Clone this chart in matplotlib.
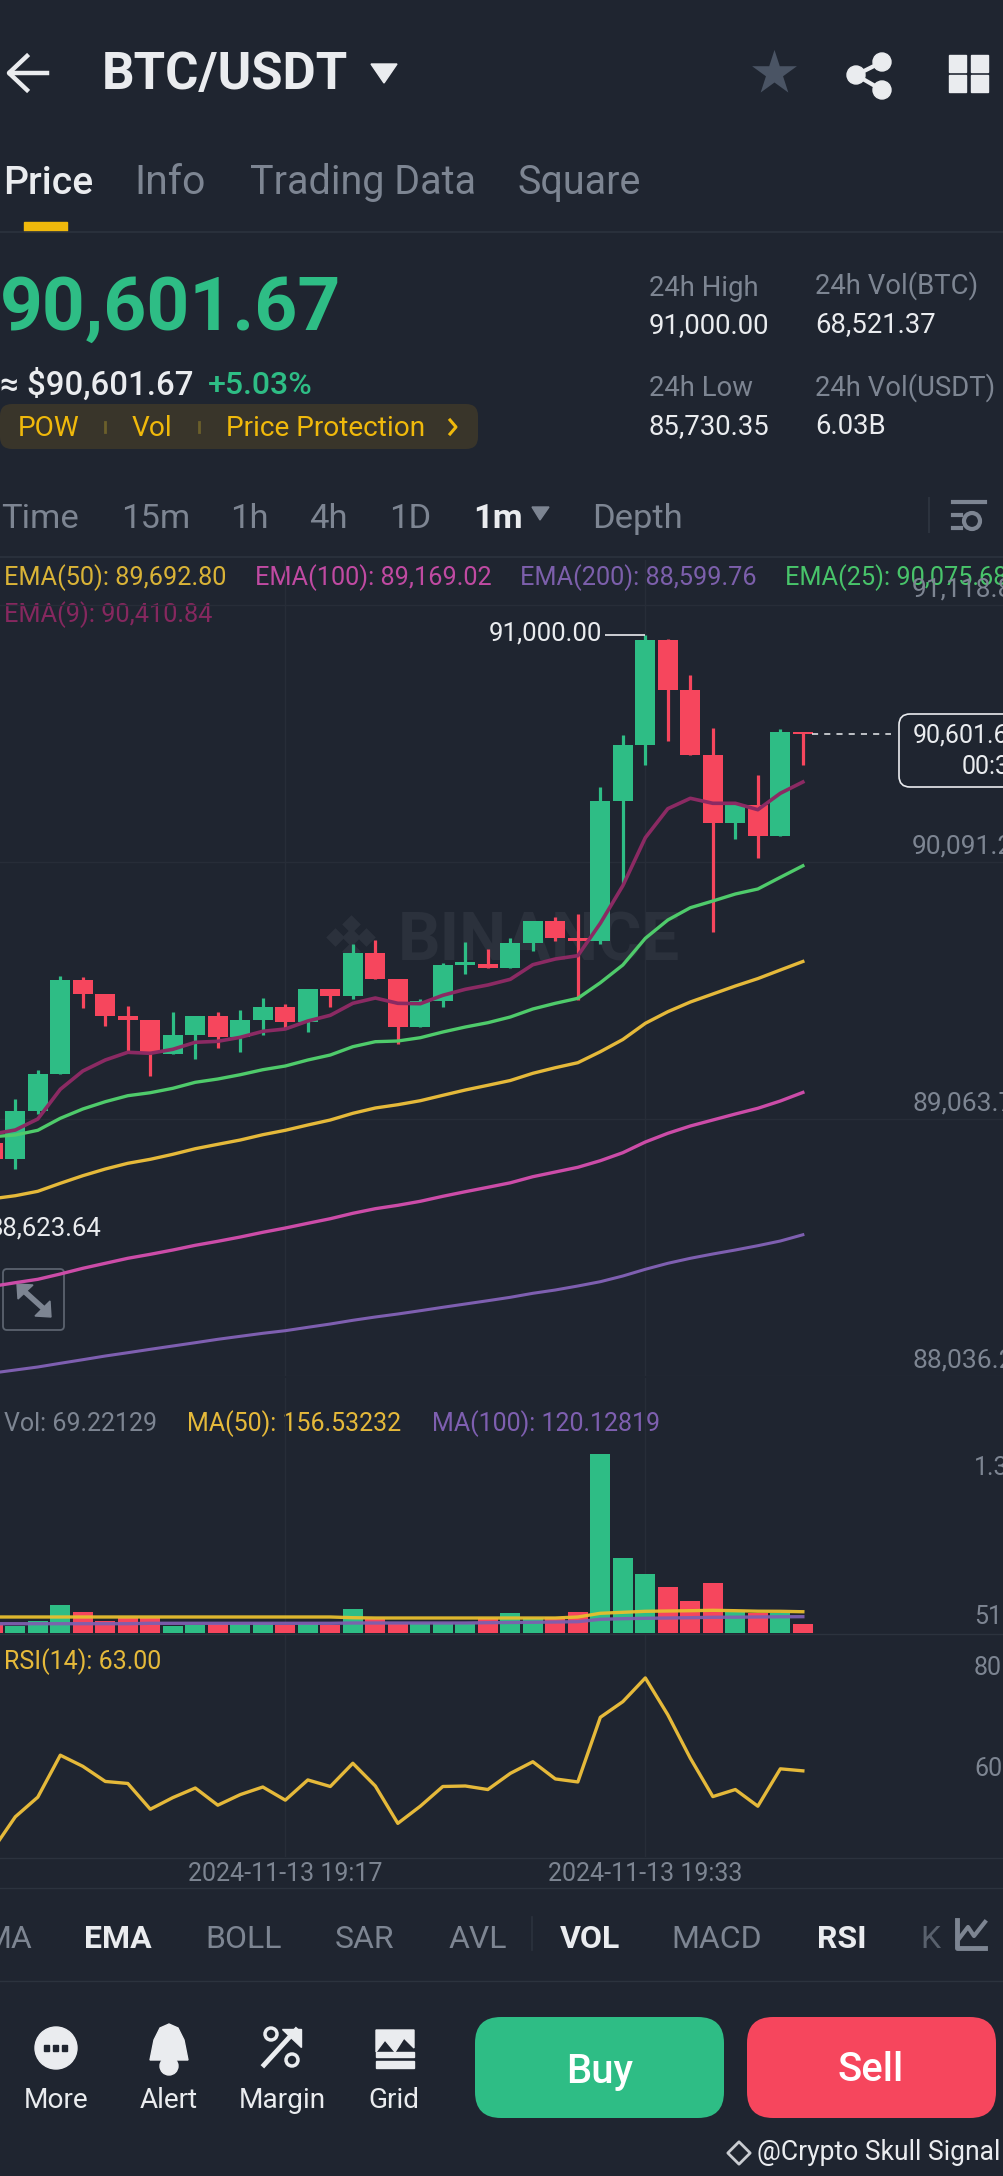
import matplotlib
matplotlib.use("Agg")
import matplotlib.pyplot as plt
from matplotlib.patches import FancyBboxPatch, Rectangle, Circle, Polygon

plt.rcParams["font.family"] = ["Roboto", "DejaVu Sans"]

# candle index, -1 is the one cut by the left edge
idx = list(range(-1, 36))
opens = [88965.6, 88904.0, 89094.8, 89241.6, 89620.0, 89561.6, 89474.8, 89460.0, 89321.6, 89400.0,
         89474.8, 89390.8, 89458.8, 89510.8, 89452.0, 89584.0, 89556.0, 89726.8, 89622.8, 89432.0,
         89536.0, 89678.8, 89681.6, 89668.0, 89768.0, 89856.0, 89788.0, 89774.8, 90334.8, 90558.8,
         90978.8, 90778.8, 90518.8, 90245.6, 90318.8, 90196.0, 90609.6]
highs = [88965.6, 89142.8, 89258.8, 89634.8, 89630.8, 89561.6, 89514.8, 89460.0, 89492.0, 89474.8,
         89490.8, 89497.6, 89546.8, 89521.6, 89584.0, 89584.0, 89762.8, 89777.6, 89622.8, 89541.6,
         89688.0, 89772.0, 89741.6, 89788.0, 89856.0, 89872.0, 89884.0, 90389.6, 90598.8, 91000.0,
         90984.0, 90838.8, 90626.8, 90318.8, 90438.8, 90621.6, 90609.6]
lows = [88904.0, 88861.6, 89081.6, 89241.6, 89505.6, 89434.8, 89332.0, 89234.8, 89321.6, 89301.6,
        89348.0, 89329.6, 89400.0, 89425.6, 89412.0, 89509.6, 89544.0, 89622.8, 89362.8, 89432.0,
        89512.0, 89641.6, 89668.0, 89668.0, 89736.0, 89776.0, 89538.8, 89762.8, 90001.6, 90478.8,
        90576.0, 90518.8, 89812.0, 90181.6, 90105.6, 90196.0, 90478.8]
closes = [88904.0, 89094.8, 89241.6, 89620.0, 89561.6, 89474.8, 89460.0, 89332.0, 89400.0, 89474.8,
          89390.8, 89458.8, 89510.8, 89452.0, 89584.0, 89556.0, 89726.8, 89622.8, 89432.0, 89536.0,
          89678.8, 89689.6, 89668.0, 89768.0, 89856.0, 89788.0, 89774.8, 90334.8, 90558.8, 90978.8,
          90778.8, 90518.8, 90245.6, 90318.8, 90196.0, 90609.6, 90601.67]

ema9 = [89002.8, 89018.8, 89062.8, 89181.6, 89254.8, 89298.8, 89329.6, 89325.6, 89341.6, 89369.6,
        89373.6, 89389.6, 89413.6, 89422.8, 89454.8, 89477.6, 89525.6, 89546.8, 89525.6, 89524.0,
        89557.6, 89581.6, 89598.8, 89621.6, 89680.0, 89702.8, 89716.0, 89845.6, 89996.0, 90188.0,
        90304.0, 90345.6, 90325.6, 90325.6, 90300.0, 90365.6, 90410.84]
ema25 = [88992.0, 88998.8, 89017.6, 89065.6, 89102.8, 89132.0, 89156.0, 89168.0, 89185.6, 89209.6,
         89222.8, 89240.0, 89260.0, 89274.8, 89298.8, 89318.8, 89352.0, 89372.0, 89374.8, 89388.0,
         89410.8, 89430.8, 89448.0, 89470.8, 89502.8, 89525.6, 89545.6, 89608.0, 89678.8, 89785.6,
         89858.8, 89908.0, 89934.8, 89962.8, 89982.8, 90029.6, 90075.68]
ema50 = [88744.0, 88756.0, 88773.6, 88805.6, 88836.0, 88862.8, 88885.6, 88901.6, 88921.6, 88944.0,
         88961.6, 88978.8, 89000.0, 89017.6, 89038.8, 89058.8, 89085.6, 89106.8, 89120.0, 89136.0,
         89157.6, 89178.8, 89197.6, 89216.8, 89245.6, 89268.0, 89288.0, 89332.0, 89380.8, 89445.6,
         89492.0, 89530.8, 89562.8, 89594.8, 89624.4, 89658.8, 89692.8]
ema100 = [88393.6, 88408.0, 88421.6, 88442.8, 88465.6, 88485.6, 88505.6, 88521.6, 88538.8, 88557.6,
          88573.6, 88590.8, 88609.6, 88626.8, 88645.6, 88664.0, 88685.6, 88704.0, 88717.6, 88733.6,
          88753.6, 88772.0, 88789.6, 88807.6, 88832.0, 88850.8, 88869.6, 88896.0, 88928.0, 88970.8,
          89005.6, 89034.8, 89058.8, 89082.8, 89105.6, 89134.8, 89169.02]
ema200 = [88046.8, 88058.8, 88070.8, 88085.6, 88100.0, 88114.8, 88128.0, 88141.6, 88154.8, 88168.0,
          88181.6, 88193.6, 88205.6, 88216.0, 88229.6, 88242.8, 88257.6, 88270.8, 88282.8, 88296.0,
          88309.6, 88322.8, 88336.0, 88349.6, 88365.6, 88378.8, 88394.8, 88412.0, 88434.8, 88461.6,
          88485.6, 88505.6, 88522.8, 88538.8, 88556.0, 88574.8, 88599.76]

volume = [56.7, 51.5, 86.1, 206.1, 156.8, 86.1, 112.6, 112.6, 49.3, 56.7,
          68.4, 68.4, 73.6, 61.1, 68.4, 61.1, 176.6, 103.0, 68.4, 73.6,
          73.6, 68.4, 108.2, 147.2, 110.4, 117.8, 156.8, 1319.6, 549.8, 436.4,
          340.8, 235.5, 370.2, 156.8, 149.4, 149.4, 69.22]
vol_ma50 = [117.8, 117.8, 117.8, 117.8, 117.8, 117.8, 117.8, 117.8, 117.8, 117.8,
            117.8, 117.8, 117.8, 117.8, 117.8, 117.8, 112.6, 110.4, 110.4, 110.4,
            110.4, 110.4, 110.4, 110.4, 110.4, 110.4, 117.8, 145.0, 152.4, 159.7,
            161.9, 164.1, 167.1, 164.1, 160.4, 159.7, 156.53]
vol_ma100 = [68.4, 68.4, 68.4, 68.4, 68.4, 68.4, 68.4, 71.4, 71.4, 71.4,
             71.4, 71.4, 71.4, 71.4, 71.4, 71.4, 73.6, 73.6, 73.6, 73.6,
             73.6, 73.6, 75.8, 77.3, 78.8, 81.0, 83.2, 100.8, 105.2, 108.2,
             110.4, 112.6, 115.6, 116.3, 117.8, 119.2, 120.13]
rsi = [47.4, 53.9, 57.8, 66.1, 63.9, 60.9, 60.5, 55.4, 57.7, 59.6,
       56.2, 58.3, 59.8, 57.2, 61.2, 59.9, 64.5, 60.0, 52.6, 56.0,
       59.9, 60.0, 59.3, 62.5, 64.8, 61.4, 60.8, 73.6, 76.7, 81.4,
       74.1, 65.5, 57.9, 59.3, 56.0, 63.4, 63.0]

price_ticks = [88036.2, 89063.7, 90091.2, 91118.8]
price_tick_labels = ["88,036.2", "89,063.7", "90,091.2", "91,118.8"]
time_ticks = [12, 28]
time_labels = ["2024-11-13 19:17", "2024-11-13 19:33"]

BG = "#1f2530"
GREEN = "#2ebd85"
RED = "#f6465d"
YELLOW = "#e5bb35"
GOLD = "#f0b90b"
GRAY = "#7d8592"
WHITE = "#eaecef"
GRID = "#272d38"
LINE = "#2c333e"
MARK = "#2b313c"
W, H = 1004, 2176
XLIM = (-0.68, 43.94)


def chart_axes(top, bottom):
    ax = fig.add_axes([0, 1 - bottom / H, 1, (bottom - top) / H], zorder=2)
    ax.patch.set_visible(False)
    ax.set_xlim(*XLIM)
    for s in ax.spines.values():
        s.set_visible(False)
    ax.tick_params(left=False, bottom=False, labelleft=False, labelbottom=False)
    ax.set_xticks(time_ticks)
    ax.grid(axis="x", color=GRID, lw=1)
    ax.set_axisbelow(True)
    return ax


def label(x, y, s, color=GRAY, size=27, ha="left", weight="normal", **kw):
    # size is in pixels of the 1004 wide picture, +2 brings the box centre onto the cap height
    return ui.text(x, y + 2, s, color=color, fontsize=size * 0.72, ha=ha, va="center", weight=weight, **kw)


fig = plt.figure(figsize=(W / 100, H / 100), dpi=100, facecolor=BG)

ui = fig.add_axes([0, 0, 1, 1], zorder=1)
ui.set_xlim(0, W)
ui.set_ylim(H, 0)
ui.axis("off")

# header
ui.plot([10, 47], [73, 73], color=WHITE, lw=3.2)
ui.plot([27, 9, 27], [56, 73, 90], color=WHITE, lw=3.2)
label(102, 73, "BTC/USDT", WHITE, 51, weight="bold")
ui.add_patch(Polygon([[371, 64], [397, 64], [384, 83]], color=WHITE))
ui.scatter([774], [73], marker="*", s=1150, color="#4a5464", lw=0)
for cx, cy in [(882, 62), (856, 75), (882, 90)]:
    ui.add_patch(Circle((cx, cy), 9, color=WHITE))
ui.plot([882, 856, 882], [62, 75, 90], color=WHITE, lw=3)
for x0, y0, h in [(949, 55, 17), (971, 55, 17), (949, 75, 17), (971, 75, 17)]:
    ui.add_patch(Rectangle((x0, y0), 17, h, color=WHITE))

# tabs
label(3, 181, "Price", WHITE, 39, weight="medium")
label(134, 181, "Info", GRAY, 41)
label(250, 181, "Trading Data", GRAY, 39.5)
label(518, 181, "Square", GRAY, 39.5)
ui.add_patch(Rectangle((24, 222), 43, 9, color=GOLD))
ui.plot([0, W], [232, 232], color=LINE, lw=1.2)

# price block
label(0, 308, "90,601.67", GREEN, 75, weight="bold")
label(0, 383, "≈ $90,601.67", WHITE, 33, weight="medium")
label(208, 383, "+5.03%", GREEN, 32, weight="medium")
ui.add_patch(FancyBboxPatch((0, 404), 478, 45, boxstyle="round,pad=0,rounding_size=12", color="#39352a", lw=0))
label(18, 427, "POW", GOLD, 28)
label(132, 427, "Vol", GOLD, 28)
label(226, 427, "Price Protection", GOLD, 28)
ui.plot([105, 105], [422, 432], color="#6b5f2b", lw=2)
ui.plot([199, 199], [422, 432], color="#6b5f2b", lw=2)
ui.plot([450, 456, 450], [420, 427, 434], color=GOLD, lw=2.2)

stats = [(649, 286, "24h High", GRAY), (815, 284, "24h Vol(BTC)", GRAY), (649, 324, "91,000.00", WHITE),
         (815, 323, "68,521.37", WHITE), (649, 387, "24h Low", GRAY), (815, 386, "24h Vol(USDT)", GRAY),
         (649, 425, "85,730.35", WHITE), (815, 424, "6.03B", WHITE)]
for x, y, s, c in stats:
    label(x, y, s, c, 27.5)

# interval row
for x, s in [(1, "Time"), (121, "15m"), (230, "1h"), (309, "4h"), (389, "1D"), (592, "Depth")]:
    label(x, 517, s, GRAY, 34.5)
label(473, 517, "1m", WHITE, 34.5, weight="bold")
ui.add_patch(Polygon([[532, 507], [549, 507], [540, 520]], color=GRAY))
ui.plot([929, 929], [498, 532], color=LINE, lw=1.5)
ui.plot([953, 985], [502, 502], color=GRAY, lw=3)
ui.plot([953, 961], [515, 515], color=GRAY, lw=3)
ui.plot([953, 961], [528, 528], color=GRAY, lw=3)
ui.add_patch(Circle((972, 521), 8, fill=False, ec=GRAY, lw=3))
ui.plot([0, W], [557, 557], color=LINE, lw=1.2)

# indicator legends
label(4, 576, "EMA(50): 89,692.80", "#d9b337", 25.3)
label(255, 576, "EMA(100): 89,169.02", "#c04aa2", 25.3)
label(520, 576, "EMA(200): 88,599.76", "#7c5fab", 25.3)
label(785, 576, "EMA(25): 90,075.68", "#48c46a", 25.3)
label(4, 613, "EMA(9): 90,410.84", "#86285f", 25.3)

# price chart, 4 price units per pixel
ax = chart_axes(560, 1376)
ax.set_ylim(88034.8, 91298.8)
ax.set_yticks(price_ticks)
ax.grid(axis="y", color=GRID, lw=1)
ax.text(17.0, 89770, "BINANCE", color=MARK, fontsize=48, weight="bold", ha="left", va="center", zorder=1)
# logo: four small diamonds round a centre one
ax.scatter([14.9, 14.2, 15.6, 14.9, 14.9], [89790, 89790, 89790, 89844, 89736], marker="D", s=90,
           color=MARK, lw=0, zorder=1)

for i, o, h, l, c in zip(idx, opens, highs, lows, closes):
    col = GREEN if c >= o else RED
    ax.vlines(i, l, h, color=col, lw=2.3, zorder=3)
    ax.bar(i, abs(c - o), bottom=min(o, c), width=0.89, color=col, lw=0, zorder=3)

ax.plot(idx, ema200, color="#7e5fb0", lw=2.2, zorder=4)
ax.plot(idx, ema100, color="#cc4ca8", lw=2.4, zorder=4)
ax.plot(idx, ema50, color="#e5b93a", lw=2.4, zorder=4)
ax.plot(idx, ema25, color="#4fcb6b", lw=2.4, zorder=4)
ax.plot(idx, ema9, color="#8b2a63", lw=2.6, zorder=4)

for p, s in zip(price_ticks, price_tick_labels):
    ax.annotate(s, xy=(912, p), xycoords=("figure pixels", "data"), xytext=(0, 11), textcoords="offset points",
                color=GRAY, fontsize=19, va="center", ha="left", zorder=2)

# high / low / last markers
ax.hlines(91000.0, 26.2, 28.0, color=WHITE, lw=1.2, zorder=3)
ax.annotate("91,000.00", xy=(26.1, 91000.0), xytext=(0, 1), textcoords="offset points", color=WHITE,
            fontsize=18.5, ha="right", va="center", zorder=5)
ax.annotate("88,623.64", xy=(3.85, 88623.64), color=WHITE, fontsize=18.5, ha="right", va="center", zorder=5,
            annotation_clip=False)
ax.hlines(closes[-1], 35.4, 38.9, color=WHITE, lw=1.1, linestyles=(0, (4, 4)), zorder=3)
ui.add_patch(FancyBboxPatch((899, 714), 140, 73, boxstyle="round,pad=0,rounding_size=11", fc=BG, ec=WHITE, lw=1.2))
label(913, 733, "90,601.67", WHITE, 25)
label(962, 765, "00:35", WHITE, 25)

# expand button
ui.add_patch(FancyBboxPatch((3, 1269), 61, 61, boxstyle="round,pad=0,rounding_size=4", fill=False, ec="#5b636f", lw=1.3))
ui.plot([24, 44], [1291, 1309], color="#7d8592", lw=4)
ui.add_patch(Polygon([[17, 1284], [33, 1285], [18, 1299]], color="#7d8592"))
ui.add_patch(Polygon([[51, 1317], [35, 1316], [50, 1301]], color="#7d8592"))

# volume panel
label(4, 1422, "Vol: 69.22129", GRAY, 25)
label(187, 1422, "MA(50): 156.53232", "#e5b93a", 25)
label(432, 1422, "MA(100): 120.12819", "#7e5fb0", 25)
ax_vol = chart_axes(1378, 1633)
ax_vol.set_ylim(0, 1876.8)
colors = [GREEN if c >= o else RED for o, c in zip(opens, closes)]
ax_vol.bar(idx, volume, width=0.89, color=colors, lw=0, zorder=3)
ax_vol.plot(idx, vol_ma50, color="#e8bf2e", lw=2.4, alpha=0.95, zorder=4)
ax_vol.plot(idx, vol_ma100, color="#7e5fb0", lw=2.4, alpha=0.95, zorder=4)
label(974, 1466, "1.3K", GRAY, 25)
label(974, 1615, "51.9", GRAY, 25)
ui.plot([0, W], [1633.5, 1633.5], color=LINE, lw=1)

# rsi panel
label(4, 1660, "RSI(14): 63.00", "#e5b93a", 25)
ax_rsi = chart_axes(1635, 1857)
ax_rsi.set_ylim(45.94, 89.9)
ax_rsi.plot(idx, rsi, color="#e5b93a", lw=2.4, zorder=4)
label(974, 1666, "80", GRAY, 25)
label(974, 1767, "60", GRAY, 25)
ui.plot([0, W], [1858, 1858], color=LINE, lw=1)
for t, s in zip(time_ticks, time_labels):
    ax_rsi.annotate(s, xy=(t, 0), xycoords=("data", "axes fraction"), xytext=(0, -12), textcoords="offset points",
                    color=GRAY, fontsize=18, ha="center", va="center", annotation_clip=False)
ui.plot([0, W], [1888, 1888], color=LINE, lw=1)

# indicator row
label(32, 1937, "MA", GRAY, 32, ha="right")
for x, s, c, w in [(118, "EMA", WHITE, "bold"), (244, "BOLL", GRAY, "normal"), (365, "SAR", GRAY, "normal"),
                   (478, "AVL", GRAY, "normal"), (590, "VOL", WHITE, "bold"), (717, "MACD", GRAY, "normal"),
                   (842, "RSI", WHITE, "bold"), (930, "K", "#59616d", "normal")]:
    label(x, 1937, s, c, 32, ha="center", weight=w)
ui.plot([532, 532], [1917, 1950], color=LINE, lw=1.2)
ui.plot([957, 957, 985], [1920, 1948, 1948], color=GRAY, lw=3.5)
ui.plot([958, 968, 974, 985], [1940, 1927, 1936, 1922], color=GRAY, lw=3)
ui.plot([0, W], [1981, 1981], color=LINE, lw=1)

# bottom toolbar
ui.add_patch(Circle((56, 2048), 21, color=WHITE))
for x in [47, 56, 65]:
    ui.add_patch(Rectangle((x - 2.5, 2045), 5, 6, color=BG))
ui.add_patch(Polygon([[150, 2060], [154, 2040], [160, 2028], [169, 2024], [178, 2028], [184, 2040], [188, 2060]],
                     color=WHITE))
ui.add_patch(Circle((169, 2066), 9, color=WHITE))
ui.plot([264, 296], [2065, 2030], color=WHITE, lw=3.5)
ui.add_patch(Polygon([[282, 2029], [301, 2029], [301, 2047]], color=WHITE))
ui.add_patch(Circle((271, 2034), 6, fill=False, ec=WHITE, lw=2.5))
ui.add_patch(Circle((292, 2060), 6, fill=False, ec=WHITE, lw=2.5))
ui.add_patch(Polygon([[376, 2030], [414, 2030], [414, 2048], [404, 2038], [395, 2052], [385, 2040], [376, 2052]],
                     color=WHITE))
ui.add_patch(Rectangle((376, 2052), 38, 5, color=WHITE))
ui.add_patch(Rectangle((376, 2061), 38, 7, color=WHITE))
for x, s in [(56, "More"), (169, "Alert"), (282, "Margin"), (394, "Grid")]:
    label(x, 2098, s, WHITE, 28, ha="center")

ui.add_patch(FancyBboxPatch((475, 2017), 249, 101, boxstyle="round,pad=0,rounding_size=26", color=GREEN, lw=0))
ui.add_patch(FancyBboxPatch((747, 2017), 249, 101, boxstyle="round,pad=0,rounding_size=26", color=RED, lw=0))
label(600, 2070, "Buy", "white", 40, ha="center", weight="medium")
label(871, 2068, "Sell", "white", 40, ha="center", weight="medium")

# watermark
ui.scatter([739], [2153], marker="D", s=130, fc="none", ec="#c9ccd1", lw=2)
label(757, 2151, "@Crypto Skull Signal", WHITE, 26.5)

fig.savefig("out.png", dpi=100, facecolor=BG)
